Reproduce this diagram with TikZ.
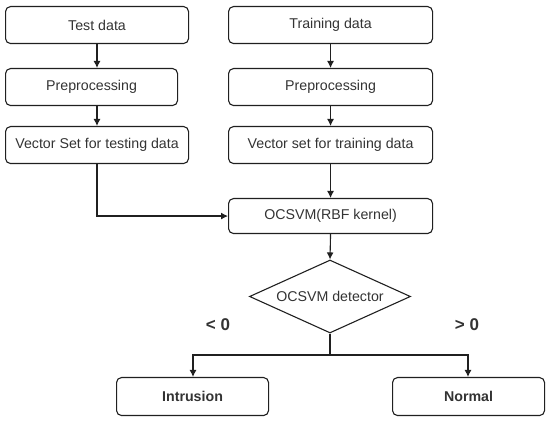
\documentclass[tikz,border=0pt]{standalone}
\usepackage{fontspec}
\setmainfont{Liberation Sans}
\usetikzlibrary{shapes.geometric,arrows.meta}
\definecolor{txt}{HTML}{333333}
\definecolor{ln}{HTML}{202020}
\begin{document}
\begin{tikzpicture}[x=1pt,y=-1pt,
  box/.style={draw=ln,line width=1.1pt,rounded corners=5pt,text=txt,font=\fontsize{14.2}{16}\selectfont,inner sep=0pt,anchor=north west},
  arr/.style={draw=ln,line width=1.1pt,-{Latex[length=7pt,width=7pt]}},
  lab/.style={font=\bfseries\fontsize{17}{19}\selectfont,text=txt}]
\useasboundingbox (0,0) rectangle (550,422);
\node[box,minimum width=183pt,minimum height=37pt] (td) at (5,6) {Test data};
\node[box,minimum width=172pt,minimum height=37pt] (pl) at (5,68) {Preprocessing};
\node[box,minimum width=183pt,minimum height=37pt] (vl) at (5,126) {Vector Set for testing data};
\node[box,minimum width=204pt,minimum height=37pt] (tr) at (228,6) {Training data};
\node[box,minimum width=204pt,minimum height=37pt] (pr) at (228,68) {Preprocessing};
\node[box,minimum width=204pt,minimum height=37pt] (vr) at (228,126) {Vector set for training data};
\node[box,minimum width=204pt,minimum height=35pt] (oc) at (228,198) {OCSVM(RBF kernel)};
\node[diamond,draw=ln,line width=1.1pt,text=txt,font=\fontsize{14.2}{16}\selectfont,minimum width=161pt,minimum height=73pt,inner sep=0pt,aspect=2.2] (det) at (330,296.5) {OCSVM detector};
\node[box,font=\bfseries\fontsize{14.2}{16}\selectfont,minimum width=152pt,minimum height=38pt] (in) at (116,377) {Intrusion};
\node[box,font=\bfseries\fontsize{14.2}{16}\selectfont,minimum width=152pt,minimum height=38pt] (no) at (392,377) {Normal};
\node[lab] (lt) at (218,325) {< 0};
\node[lab] (gt) at (467,325) {> 0};
\coordinate (j) at (330,355);
\draw[arr] (td.south -| 97,0) -- (pl.north -| 97,0);
\draw[arr] (pl.south -| 97,0) -- (vl.north -| 97,0);
\draw[arr] (tr.south) -- (pr.north);
\draw[arr] (pr.south) -- (vr.north);
\draw[arr] (vr.south) -- (oc.north);
\draw[arr] (vl.south -| 97,0) |- (oc.west);
\draw[arr] (oc.south) -- (det.north);
\draw[draw=ln,line width=1.1pt] (det.south) -- (j);
\draw[arr] (j) -| (193,0 |- in.north);
\draw[arr] (j) -| (468,0 |- no.north);
\end{tikzpicture}
\end{document}
